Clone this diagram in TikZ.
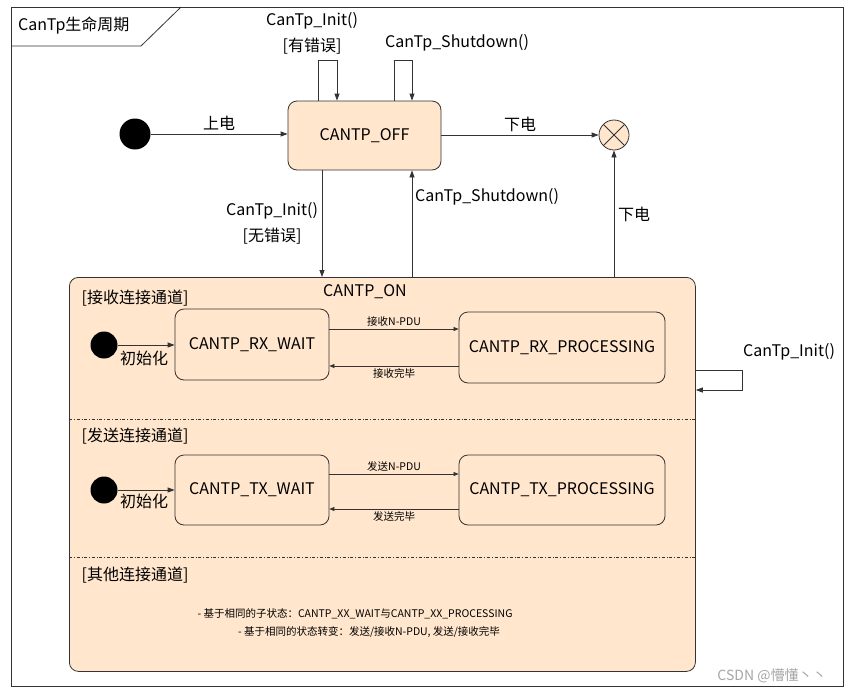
\documentclass[tikz,border=0pt]{standalone}
\usepackage{fontspec}
\setmainfont{Noto Sans CJK SC}
\usetikzlibrary{arrows.meta}
\definecolor{peach}{HTML}{FFE6CC}
\definecolor{edge}{HTML}{333333}
\begin{document}
\begin{tikzpicture}[x=1pt,y=-1pt,
  st/.style={draw=edge,fill=peach,rounded corners=9pt,line width=0.8pt},
  ar/.style={draw=edge,line width=0.8pt,-{Triangle[length=7pt,width=5pt]}},
  sar/.style={draw=edge,line width=0.6pt,-{Triangle[length=5pt,width=4pt]}},
  lb/.style={font=\fontsize{16}{18}\selectfont,inner sep=1pt},
  sl/.style={font=\fontsize{10.5}{12}\selectfont,inner sep=1pt},
  dot/.style={circle,fill=black,inner sep=0pt}]
\useasboundingbox (0,0) rectangle (854,694);
\fill[white] (0,0) rectangle (854,694);
\node[draw=edge,line width=0.8pt,minimum width=832pt,minimum height=679pt,anchor=north west] (frame) at (11,7) {};
\draw[edge,line width=0.8pt] (11,46) -- (141,46) -- (181,7);
\node[lb,anchor=west] (title) at (17,26) {CanTp生命周期};
% top level
\node[dot,minimum size=31pt] (init) at (135,134) {};
\node[st,minimum width=153pt,minimum height=69pt,lb] (off) at (364.5,135.5) {CANTP\_OFF};
\node[circle,draw=edge,fill=peach,minimum size=30pt,inner sep=0pt,line width=0.8pt] (fin) at (614,135) {};
\draw[edge,line width=0.8pt] ([shift={(-10.6,-10.6)}]fin.center) -- ([shift={(10.6,10.6)}]fin.center)
  ([shift={(-10.6,10.6)}]fin.center) -- ([shift={(10.6,-10.6)}]fin.center);
\draw[ar] (init) -- node[lb,above,yshift=2pt]{上电} (off.west |- init);
\draw[ar] (off.east |- fin) -- node[lb,above,yshift=2pt]{下电} (fin);
\coordinate (l1) at (318,60); \coordinate (l2) at (337,60);
\draw[ar] (off.north -| l1) -- (l1) -- (l2) -- (off.north -| l2);
\node[lb] (t1) at (312,21) {CanTp\_Init()};
\node[lb] (t2) at (312,46) {[有错误]};
\coordinate (l3) at (394,60); \coordinate (l4) at (412,60);
\draw[ar] (off.north -| l3) -- (l3) -- (l4) -- (off.north -| l4);
\node[lb] (t3) at (457,43) {CanTp\_Shutdown()};
% ON
\node[st,minimum width=626pt,minimum height=394pt,anchor=north west] (on) at (69,277) {};
\node[lb] (ont) at (365,292) {CANTP\_ON};
\draw[ar] (off.south -| 322,0) -- (on.north -| 322,0);
\node[lb] (t4) at (272,211) {CanTp\_Init()};
\node[lb] (t5) at (272,236) {[无错误]};
\draw[ar] (on.north -| 412,0) -- (off.south -| 412,0);
\node[lb] (t6) at (487,197) {CanTp\_Shutdown()};
\draw[ar] (on.north -| fin) -- (fin);
\node[lb] (t7) at (634,214) {下电};
\coordinate (r1) at (742,370); \coordinate (r2) at (742,390);
\draw[ar] (on.east |- r1) -- (r1) -- (r2) -- (on.east |- r2);
\node[lb] (t8) at (789,352) {CanTp\_Init()};
\draw[edge,line width=0.6pt,dash dot] (69,419) -- (695,419);
\draw[edge,line width=0.6pt,dash dot] (69,557) -- (695,557);
\node[lb] (c1) at (135,298) {[接收连接通道]};
\node[lb] (c2) at (135,436) {[发送连接通道]};
\node[lb] (c3) at (135,575) {[其他连接通道]};
% RX
\node[dot,minimum size=27pt] (rxd) at (104,345) {};
\node[st,minimum width=154pt,minimum height=71pt,lb] (rxw) at (252,344.5) {CANTP\_RX\_WAIT};
\node[st,minimum width=206pt,minimum height=71pt,lb] (rxp) at (562,347.5) {CANTP\_RX\_PROCESSING};
\draw[ar] (rxd) -- (rxw.west |- rxd);
\node[lb] (i1) at (144,358) {初始化};
\draw[sar] (rxw.east |- 0,329) -- node[sl,above,yshift=1pt]{接收N-PDU} (rxp.west |- 0,329);
\draw[sar] (rxp.west |- 0,366) -- node[sl,below,yshift=-1pt]{接收完毕} (rxw.east |- 0,366);
% TX
\node[dot,minimum size=27pt] (txd) at (104,490) {};
\node[st,minimum width=154pt,minimum height=70pt,lb] (txw) at (252,490) {CANTP\_TX\_WAIT};
\node[st,minimum width=206pt,minimum height=70pt,lb] (txp) at (562,490) {CANTP\_TX\_PROCESSING};
\draw[ar] (txd) -- (txw.west |- txd);
\node[lb] (i2) at (144,501) {初始化};
\draw[sar] (txw.east |- 0,474) -- node[sl,above,yshift=1pt]{发送N-PDU} (txp.west |- 0,474);
\draw[sar] (txp.west |- 0,509) -- node[sl,below,yshift=-1pt]{发送完毕} (txw.east |- 0,509);
% notes
\node[sl] (n1) at (355,614) {- 基于相同的子状态：CANTP\_XX\_WAIT与CANTP\_XX\_PROCESSING};
\node[sl] (n2) at (369,632) {- 基于相同的状态转变：发送/接收N-PDU, 发送/接收完毕};
\node[font=\fontsize{14}{16}\selectfont,text=gray!70] (wm) at (772,676) {CSDN @懵懂丶丶};
\end{tikzpicture}
\end{document}
